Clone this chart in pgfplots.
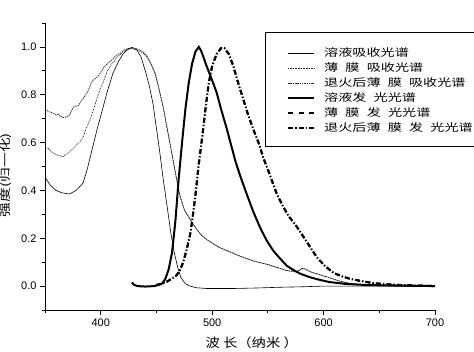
\documentclass[border=0pt]{standalone}
\usepackage{fontspec}
\setmainfont{Liberation Sans}
\newfontfamily\cjk[FakeStretch=1.35]{Noto Sans CJK SC}
\newfontfamily\cjkx[FakeStretch=1.15]{Noto Sans CJK SC}
\usepackage{pgfplots}
\pgfplotsset{compat=1.18}
\newcommand{\gap}{\hspace{4bp}}
\begin{document}
\begin{tikzpicture}
\begin{axis}[name=ax, at={(0,0)}, anchor=south west,
  scale only axis, width=390bp, height=287bp,
  xmin=350, xmax=700, ymin=-0.1, ymax=1.1,
  axis lines*=left,
  axis line style={line width=1bp},
  xtick={400,500,600,700}, minor xtick={350,450,550,650},
  ytick={0,0.2,0.4,0.6,0.8,1.0}, minor ytick={-0.1,0.1,0.3,0.5,0.7,0.9,1.1},
  tick align=outside, major tick length=5bp, minor tick length=3bp,
  every tick/.style={line width=0.8bp, black},
  /pgf/number format/assume math mode=true,
  tick label style={font=\fontsize{11}{13}\selectfont},
  yticklabel style={/pgf/number format/.cd, fixed, fixed zerofill, precision=1},
  xlabel={\cjkx\fontsize{12.5}{14}\selectfont 波 长（纳米 ）},
  ylabel={\cjk\fontsize{11}{13}\selectfont 强度(归一化)},
  xlabel style={at={(axis description cs:0.53,-0.115)}, anchor=center},
  ylabel style={at={(axis description cs:-0.1,0.47)}, anchor=center, rotate=0},
  legend cell align=left,
  legend image code/.code={\draw[#1] (0bp,0bp) -- (26bp,0bp);},
  legend style={at={(axis description cs:0.6205,0.913)}, anchor=north west,
    draw=none, fill=none,
    font=\fontsize{10.5}{12}\selectfont\cjk,
    inner sep=0pt, row sep=5bp, column sep=9bp,
    nodes={inner sep=0pt, text height=8bp, text depth=2bp, align=left}},
]
% 1 solution absorption
\addplot[black, line width=0.6bp] table {
350 0.455
355 0.42
360 0.40
365 0.39
372 0.385
378 0.40
384 0.43
388 0.49
393 0.585
397 0.66
402 0.745
406 0.815
411 0.89
416 0.94
420 0.97
424 0.99
428 0.998
432 0.99
436 0.96
440 0.90
444 0.83
447 0.76
450 0.66
453 0.56
456 0.45
460 0.32
463 0.22
466 0.14
469 0.08
472 0.035
476 0.01
480 0.0
486 -0.007
495 -0.01
520 -0.01
540 -0.008
560 -0.005
580 -0.003
600 0.0
650 0.0
700 0.0
};
\addlegendentry{溶液吸收光谱}
% 2 film absorption
\addplot[black!85, line width=0.7bp, dash pattern=on 0.8bp off 0.8bp] table {
350 0.58
353 0.575
356 0.56
360 0.55
363 0.545
366 0.54
369 0.55
372 0.56
375 0.575
378 0.59
381 0.6
384 0.62
387 0.66
389 0.68
391 0.705
393 0.73
395 0.76
397 0.79
400 0.83
402 0.85
404 0.875
406 0.90
408 0.915
410 0.93
412 0.94
415 0.96
418 0.97
420 0.98
423 0.985
425 0.99
428 0.995
430 0.995
434 0.99
438 0.98
442 0.96
446 0.92
449 0.89
452 0.83
456 0.75
460 0.65
464 0.55
468 0.45
471 0.38
475 0.32
480 0.28
485 0.245
490 0.215
495 0.195
500 0.18
507 0.16
515 0.145
525 0.125
537 0.105
550 0.09
560 0.075
567 0.065
575 0.06
578 0.065
581 0.075
584 0.072
588 0.06
595 0.05
605 0.035
615 0.02
625 0.01
640 0.005
660 0.0
700 0.0
};
\addlegendentry{薄 \gap 膜 \gap 吸收光谱}
% 3 annealed film absorption
\addplot[black!85, line width=0.7bp, dash pattern=on 1.5bp off 0.8bp] table {
350 0.74
353 0.73
356 0.725
358 0.72
360 0.715
362 0.72
364 0.71
366 0.705
368 0.705
370 0.71
372 0.715
374 0.735
376 0.75
378 0.752
380 0.755
382 0.77
385 0.79
388 0.81
390 0.83
391 0.845
393 0.86
396 0.87
399 0.885
402 0.91
406 0.93
410 0.945
414 0.965
418 0.975
422 0.99
426 0.995
430 0.99
434 0.985
438 0.975
442 0.955
446 0.92
449 0.885
452 0.83
456 0.75
460 0.65
464 0.55
468 0.45
471 0.38
475 0.32
480 0.28
485 0.245
490 0.215
495 0.195
500 0.18
507 0.16
515 0.145
525 0.125
537 0.105
550 0.09
560 0.075
567 0.065
575 0.06
578 0.066
581 0.074
584 0.07
588 0.06
595 0.05
605 0.035
615 0.02
625 0.01
640 0.005
660 0.0
700 0.0
};
\addlegendentry{退火后薄 \gap 膜 \gap 吸收光谱}
% 4 solution emission
\addplot[black, line width=2bp] table {
428 0.015
430 0.005
433 0.0
440 -0.002
448 0.0
452 0.005
455 0.01
458 0.03
461 0.07
464 0.14
467 0.27
470 0.45
473 0.60
476 0.74
479 0.85
482 0.93
485 0.98
488 1.0
490 0.985
492 0.96
495 0.92
500 0.86
504 0.81
508 0.74
513 0.66
517 0.59
521 0.52
526 0.45
531 0.385
537 0.31
543 0.245
549 0.19
555 0.147
561 0.115
567 0.085
573 0.067
579 0.052
587 0.038
594 0.029
605 0.017
620 0.009
640 0.004
670 0.002
700 0.0
};
\addlegendentry{溶液发 \gap 光光谱}
% 5 film emission
\addplot[black, line width=2bp, dash pattern=on 5bp off 5.5bp] table {
450 0.005
455 0.01
460 0.02
465 0.035
468 0.045
471 0.065
474 0.1
477 0.15
480 0.21
482 0.27
485 0.38
488 0.51
491 0.62
494 0.74
497 0.85
500 0.92
504 0.97
508 0.995
511 0.995
515 0.97
519 0.92
523 0.855
528 0.78
532 0.72
537 0.655
542 0.595
546 0.535
551 0.475
558 0.385
564 0.33
569 0.29
575 0.255
580 0.22
587 0.17
594 0.12
601 0.085
609 0.055
617 0.04
624 0.03
635 0.02
645 0.012
655 0.008
670 0.004
700 0.0
};
\addlegendentry{薄 \gap 膜 \gap 发 \gap 光光谱}
% 6 annealed film emission
\addplot[black, line width=2bp, dash pattern=on 5bp off 2bp on 1.5bp off 2bp] table {
450 0.005
455 0.01
460 0.02
465 0.035
468 0.045
471 0.065
474 0.1
477 0.15
480 0.21
482 0.27
485 0.38
488 0.51
491 0.62
494 0.74
497 0.85
500 0.92
504 0.97
508 0.995
511 0.995
515 0.97
519 0.92
523 0.855
528 0.78
532 0.72
537 0.655
542 0.595
546 0.535
551 0.475
558 0.385
564 0.33
569 0.29
575 0.255
580 0.22
587 0.17
594 0.12
601 0.085
609 0.055
617 0.04
624 0.03
635 0.02
645 0.012
655 0.008
670 0.004
700 0.0
};
\addlegendentry{退火后薄 \gap 膜 \gap 发 \gap 光光谱}
\end{axis}
\draw[line width=0.6bp] ([shift={(220bp,278bp)}]ax.south west) rectangle ++(260bp,-114bp);
\pgfresetboundingbox
\path[use as bounding box] ([shift={(-45bp,-42bp)}]ax.south west) rectangle ++(474bp,352bp);
\end{tikzpicture}
\end{document}
